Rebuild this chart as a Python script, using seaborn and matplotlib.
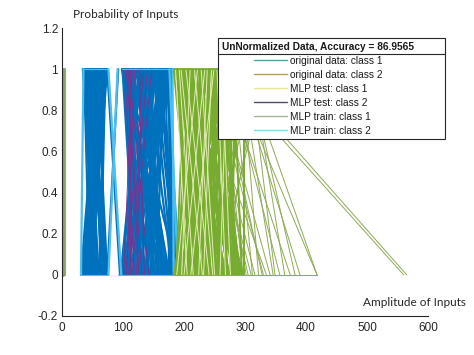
import numpy as np
import pandas as pd
import matplotlib
matplotlib.use("Agg")
import matplotlib.pyplot as plt
import seaborn as sns
from matplotlib.lines import Line2D
from matplotlib.patches import Rectangle

# ---------------- data (amplitudes at y=0 and y=1 for each segment) ----------------
blue1_bot = [31, 45, 38, 60, 72, 34, 52, 66, 41, 75, 48, 57, 36, 69, 63, 43, 54, 74, 33, 58,
             47, 70, 39, 65, 50, 61, 44, 73, 37, 56, 67, 42, 53, 71, 35, 59, 49, 64, 46, 68]
blue1_top = [58, 36, 70, 41, 49, 62, 35, 52, 73, 44, 66, 38, 55, 47, 71, 60, 40, 57, 68, 45,
             74, 37, 63, 50, 42, 69, 54, 39, 65, 48, 43, 72, 59, 46, 61, 34, 67, 51, 56, 64]

blue2_bot = [96, 120, 145, 170, 188, 102, 131, 158, 176, 110,
             139, 165, 191, 99, 126, 150, 182, 115, 143, 168,
             105, 134, 160, 185, 112, 141, 173, 97, 124, 153,
             179, 108, 137, 163, 193, 118, 147, 171, 101, 129,
             156, 184, 113, 140, 166, 104, 132, 161, 187, 121,
             149, 175, 107, 136, 162, 190, 116, 144, 169, 100,
             128, 155, 181, 111, 138, 167, 123, 152, 178, 186,
             95, 74]
blue2_top = [130, 99, 166, 121, 152, 175, 108, 143, 116, 178,
             137, 104, 160, 127, 171, 112, 149, 180, 101, 134,
             163, 119, 145, 174, 106, 157, 125, 168, 139, 110,
             177, 147, 103, 132, 170, 115, 155, 98, 141, 164,
             123, 179, 109, 150, 128, 172, 136, 102, 159, 118,
             146, 176, 113, 162, 131, 105, 154, 173, 124, 144,
             100, 167, 138, 117, 158, 107, 148, 126, 169, 161,
             74, 92]

purple_bot = [101, 118, 135, 109, 126, 104, 142, 114, 131, 122, 106, 112]
purple_top = [115, 103, 126, 140, 108, 134, 110, 147, 105, 130, 119, 112]

lightblue_bot = [5.2, 76, 97, 190, 183, 31]
lightblue_top = [5.2, 91, 76, 176, 181, 35]

olive_bot = [2.3]
olive_top = [2.3]

green_bot = [184, 210, 236, 262, 288, 195, 221, 247, 273, 190,
             216, 242, 268, 294, 200, 226, 252, 278, 187, 213,
             239, 265, 291, 204, 230, 256, 282, 192, 218, 244,
             270, 297, 207, 233, 259, 285, 186, 212, 238, 264,
             290, 198, 224, 250, 276, 189, 215, 241, 267, 293,
             202, 228, 254, 280, 194, 220, 246, 272, 299, 209,
             235, 261, 287, 183, 208, 234, 260, 286, 197, 223,
             249, 275, 191, 217, 243, 269, 295, 205, 231, 257,
             283, 188, 214, 240, 266, 292, 201, 227, 253, 279,
             193, 222, 251, 206, 237, 263, 185, 229, 258, 219]
green_top = [230, 188, 265, 205, 244, 279, 196, 252, 218, 290,
             183, 237, 271, 209, 258, 192, 225, 284, 201, 248,
             214, 296, 186, 262, 233, 199, 275, 221, 242, 190,
             268, 207, 286, 228, 256, 185, 240, 212, 293, 197,
             260, 223, 250, 189, 277, 216, 235, 203, 266, 246,
             194, 282, 229, 254, 211, 272, 187, 238, 299, 220,
             258, 193, 245, 276, 206, 232, 263, 184, 288, 226,
             249, 202, 270, 215, 239, 198, 281, 222, 255, 191,
             267, 210, 243, 274, 200, 236, 259, 219, 285, 231,
             208, 241, 196, 226, 253, 213, 234, 204, 247, 189]

fan_bot = [302, 316, 328, 341, 357, 374, 390, 418, 418, 560, 565, 310, 335, 305, 322, 349,
           238, 255, 262, 296, 312, 330, 346, 365, 382]
fan_top = [240, 232, 255, 248, 270, 262, 285, 300, 276, 258, 267, 222, 215, 228, 295, 308,
           318, 334, 325, 262, 280, 244, 292, 310, 305]

pale_bot = [196, 215, 232, 250, 205, 268, 224, 241, 188, 259, 211, 230, 276, 200, 247]
pale_top = [210, 192, 245, 228, 186, 254, 238, 203, 222, 270, 249, 195, 262, 234, 217]

# horizontal edges: (start, end, level)
edge_start = [30, 34, 92, 98, 183, 182]
edge_end = [76, 74, 193, 180, 418, 300]
edge_level = [0, 1, 0, 1, 0, 1]
edge_color = ["#4DBEEE", "#4DBEEE", "#4DBEEE", "#4DBEEE", "#8DAA55", "#77AC30"]

legend_title = "UnNormalized Data, Accuracy = 86.9565"
legend_labels = ["original data: class 1", "original data: class 2", "MLP test: class 1",
                 "MLP test: class 2", "MLP train: class 1", "MLP train: class 2"]
legend_colors = ["#5E9A9E", "#B49A6A", "#E6E2A2", "#4E4C6C", "#A6B596", "#8ED6E6"]

x_ticks = [0, 100, 200, 300, 400, 500, 600]
y_ticks = [-0.2, 0, 0.2, 0.4, 0.6, 0.8, 1, 1.2]
y_tick_labels = ["-0.2", "0", "0.2", "0.4", "0.6", "0.8", "1", "1.2"]


def seg_frame(bot, top):
    rows = []
    for i, (b, t) in enumerate(zip(bot, top)):
        rows.append((i, b, 0.0))
        rows.append((i, t, 1.0))
    return pd.DataFrame(rows, columns=["seg", "x", "y"])


sns.set_theme(style="white")
plt.rcParams["font.family"] = ["Liberation Sans", "DejaVu Sans"]

fig = plt.figure(figsize=(4.74, 3.55), dpi=100)
ax = fig.add_axes([0.131, 0.110, 0.772, 0.811])

series = [
    (blue1_bot, blue1_top, "#0072BD", 1.6),
    (blue2_bot, blue2_top, "#0072BD", 1.6),
    (purple_bot, purple_top, "#7E2F8E", 0.6),
    (lightblue_bot, lightblue_top, "#4DBEEE", 1.6),
    (olive_bot, olive_top, "#8C9E66", 2.2),
    (fan_bot, fan_top, "#8DAA55", 0.7),
    (green_bot, green_top, "#77AC30", 1.4),
    (pale_bot, pale_top, "#E4EEB4", 0.7),
]
for bot, top, col, lw in series:
    df = seg_frame(bot, top)
    sns.lineplot(data=df, x="x", y="y", units="seg", estimator=None, sort=False,
                 color=col, lw=lw, ax=ax, legend=False)

for s, e, lv, c in zip(edge_start, edge_end, edge_level, edge_color):
    df = pd.DataFrame({"x": [s, e], "y": [lv, lv]})
    sns.lineplot(data=df, x="x", y="y", estimator=None, sort=False, color=c, lw=0.8,
                 ax=ax, legend=False)

ax.set_xlim(0, 600)
ax.set_ylim(-0.2, 1.2)
ax.set_xticks(x_ticks)
ax.set_xticklabels([str(v) for v in x_ticks])
ax.set_yticks(y_ticks)
ax.set_yticklabels(y_tick_labels)
ax.set_xlabel("")
ax.set_ylabel("")
for side in ["top", "right"]:
    ax.spines[side].set_visible(False)
for side in ["left", "bottom"]:
    ax.spines[side].set_color("#262626")
    ax.spines[side].set_linewidth(0.8)
ax.tick_params(axis="both", direction="in", length=3, width=0.7, color="#262626",
               labelsize=8.5, labelcolor="#262626", pad=3)
ax.tick_params(axis="x", pad=4)

fig.text(73 / 474, 1 - 14 / 355, "Probability of Inputs", family=["Lato", "DejaVu Sans"],
         fontsize=8.5, color="#262626", ha="left", va="center")
fig.text(466 / 474, 1 - 302 / 355, "Amplitude of Inputs", family=["Lato", "DejaVu Sans"],
         fontsize=8.5, color="#262626", ha="right", va="center")

handles = [Line2D([0], [0], color=c, lw=1.0) for c in legend_colors]
leg = ax.legend(handles, legend_labels, title=legend_title,
                loc="upper center", bbox_to_anchor=(318 / 474, 1 - 38 / 355),
                bbox_transform=fig.transFigure, fontsize=7.3, title_fontsize=7.3,
                frameon=False, borderpad=0.35, labelspacing=0.4, handlelength=3.3,
                handletextpad=0.3, borderaxespad=0)
leg.get_title().set_fontweight("bold")
leg.get_title().set_color("#1a1a1a")
for t in leg.get_texts():
    t.set_color("#1a1a1a")
leg.set_zorder(10)

fig.canvas.draw()
bb = leg.get_window_extent()
tb = leg.get_title().get_window_extent()
x0, x1 = 218, 445
rect = Rectangle((x0, bb.y0), x1 - x0, bb.y1 - bb.y0, transform=None,
                 facecolor="white", edgecolor="#262626", lw=0.8, zorder=5)
ax.add_artist(rect)
rect.set_clip_on(False)
ysep = tb.y0 - 2.5
sep = Line2D([x0, x1], [ysep, ysep], transform=None, color="#262626", lw=0.8, zorder=6)
sep.set_clip_on(False)
ax.add_artist(sep)

fig.savefig("out.png", dpi=100)
